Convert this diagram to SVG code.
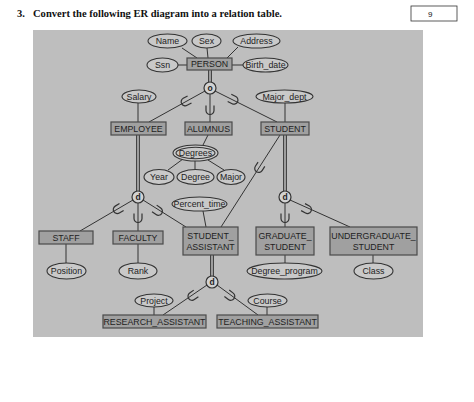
<svg xmlns="http://www.w3.org/2000/svg" width="474" height="402" viewBox="0 0 474 402">
<style>
.bg{fill:#bebebe}
.ent rect{fill:#a0a0a0;stroke:#4a4a4a;stroke-width:1.2}
.att ellipse{fill:#c9c9c9;stroke:#333;stroke-width:1.1}
.t{font-family:"Liberation Sans",Arial,sans-serif;font-size:8.8px;fill:#1e1e1e;text-anchor:middle}
.te{font-family:"Liberation Sans",Arial,sans-serif;font-size:8.8px;fill:#1e1e1e;text-anchor:middle}
.ln line{stroke:#333;stroke-width:1}
.dbl1{stroke:#444;stroke-width:4}
.dbl2{stroke:#b4b4b4;stroke-width:1.6}
.sub{fill:none;stroke:#333;stroke-width:1.2}
.circ circle{fill:#d2d2d2;stroke:#333;stroke-width:1.2}
.ct{font-family:"Liberation Sans",Arial,sans-serif;font-size:8.5px;font-weight:bold;fill:#1e1e1e;text-anchor:middle}
</style>
<defs>
<path id="u" class="sub" d="M-4,-4.5 V0.5 A4,4 0 0 0 4,0.5 V-4.5"/>
</defs>
<rect width="474" height="402" fill="#ffffff"/>
<g id="header">
<text x="17" y="17" font-family="Liberation Serif,'Times New Roman',serif" font-size="10.5" font-weight="bold" fill="#111">3.</text>
<text x="33" y="17" font-family="Liberation Serif,'Times New Roman',serif" font-size="10.5" font-weight="bold" fill="#111" textLength="249" lengthAdjust="spacingAndGlyphs">Convert the following ER diagram into a relation table.</text>
<rect x="411" y="6" width="46" height="15" fill="#fff" stroke="#333" stroke-width="0.8"/>
<text x="428" y="17" font-family="'Liberation Sans',Arial,sans-serif" font-size="8" fill="#111">9</text>
</g>
<rect class="bg" x="33" y="30" width="390" height="307"/>

<g id="connectors">
<g class="ln">
<line x1="182" y1="48" x2="197" y2="58"/>
<line x1="207" y1="48" x2="208" y2="58"/>
<line x1="238" y1="47" x2="227" y2="58"/>
<line x1="178" y1="65" x2="187" y2="65"/>
<line x1="232" y1="65" x2="243" y2="65"/>
<line x1="205" y1="91" x2="149" y2="122"/>
<line x1="210" y1="94" x2="210" y2="122"/>
<line x1="215" y1="91" x2="277" y2="122"/>
<line x1="138" y1="103" x2="138" y2="122"/>
<line x1="285" y1="103" x2="285" y2="122"/>
<line x1="208" y1="135" x2="203" y2="145"/>
<line x1="183" y1="159" x2="168" y2="170"/>
<line x1="195" y1="161" x2="195" y2="169"/>
<line x1="208" y1="160" x2="224" y2="170"/>
<line x1="280" y1="135" x2="221" y2="227"/>
<line x1="133" y1="200" x2="80" y2="231"/>
<line x1="138" y1="203" x2="138" y2="231"/>
<line x1="143" y1="200" x2="186" y2="227"/>
<line x1="203" y1="211" x2="206" y2="227"/>
<line x1="285" y1="203" x2="285" y2="227"/>
<line x1="290" y1="200" x2="350" y2="227"/>
<line x1="66" y1="244" x2="66" y2="263"/>
<line x1="138" y1="244" x2="138" y2="263"/>
<line x1="285" y1="255" x2="285" y2="263"/>
<line x1="373" y1="255" x2="373" y2="263"/>
<line x1="207" y1="285" x2="163" y2="315"/>
<line x1="217" y1="285" x2="258" y2="315"/>
<line x1="154" y1="307" x2="154" y2="315"/>
<line x1="267" y1="307" x2="267" y2="315"/>
</g>
<g id="double-lines">
<line class="dbl1" x1="210" y1="70" x2="210" y2="82"/>
<line class="dbl2" x1="210" y1="70" x2="210" y2="82"/>
<line class="dbl1" x1="138" y1="135" x2="138" y2="191"/>
<line class="dbl2" x1="138" y1="135" x2="138" y2="191"/>
<line class="dbl1" x1="285" y1="135" x2="285" y2="191"/>
<line class="dbl2" x1="285" y1="135" x2="285" y2="191"/>
<line class="dbl1" x1="212" y1="255" x2="212" y2="276"/>
<line class="dbl2" x1="212" y1="255" x2="212" y2="276"/>
</g>
<g id="subset-marks">
<use href="#u" transform="translate(185.6,101.6) rotate(60.9)"/>
<use href="#u" transform="translate(210,110)"/>
<use href="#u" transform="translate(233.5,99.9) rotate(-63.1)"/>
<use href="#u" transform="translate(259,168) rotate(32.6)"/>
<use href="#u" transform="translate(117.7,209.3) rotate(58.9)"/>
<use href="#u" transform="translate(138,218)"/>
<use href="#u" transform="translate(158,211) rotate(-54.5)"/>
<use href="#u" transform="translate(285,218)"/>
<use href="#u" transform="translate(307,209.3) rotate(-60.9)"/>
<use href="#u" transform="translate(192.4,296) rotate(54.5)"/>
<use href="#u" transform="translate(230.4,296) rotate(-52.7)"/>
</g>
</g>

<g id="circles" class="circ">
<g id="c-o"><circle cx="210" cy="88" r="6"/><text class="ct" x="210" y="90.5">o</text></g>
<g id="c-d1"><circle cx="138" cy="197" r="6"/><text class="ct" x="138" y="200">d</text></g>
<g id="c-d2"><circle cx="285" cy="197" r="6"/><text class="ct" x="285" y="200">d</text></g>
<g id="c-d3"><circle cx="212" cy="282" r="6"/><text class="ct" x="212" y="285">d</text></g>
</g>

<g id="attributes" class="att">
<g id="a-name"><ellipse cx="167.5" cy="41" rx="19.5" ry="7"/><text class="t" x="167.5" y="44.2">Name</text></g>
<g id="a-sex"><ellipse cx="206.5" cy="41" rx="14.5" ry="7"/><text class="t" x="206.5" y="44.2">Sex</text></g>
<g id="a-address"><ellipse cx="256.5" cy="41" rx="23.5" ry="7"/><text class="t" x="256.5" y="44.2">Address</text></g>
<g id="a-ssn"><ellipse cx="162.5" cy="65" rx="15.5" ry="7"/><text class="t" x="162.5" y="68.2">Ssn</text></g>
<g id="a-birth"><ellipse cx="265.5" cy="65" rx="22.5" ry="7"/><text class="t" x="265.5" y="68.2">Birth_date</text></g>
<g id="a-salary"><ellipse cx="139" cy="96.5" rx="17" ry="6.5"/><text class="t" x="139" y="99.7">Salary</text></g>
<g id="a-major-dept"><ellipse cx="284.5" cy="96.5" rx="28.5" ry="6.5"/><text class="t" x="284.5" y="99.7">Major_dept</text></g>
<g id="a-degrees"><ellipse cx="195.5" cy="153" rx="22.5" ry="8"/><ellipse cx="195.5" cy="153" rx="19.5" ry="5.7"/><text class="t" x="195.5" y="156.2">Degrees</text></g>
<g id="a-year"><ellipse cx="159" cy="177" rx="15" ry="7.5"/><text class="t" x="159" y="180.2">Year</text></g>
<g id="a-degree"><ellipse cx="195.5" cy="177" rx="18.5" ry="7.5"/><text class="t" x="195.5" y="180.2">Degree</text></g>
<g id="a-major"><ellipse cx="231" cy="177" rx="14" ry="7.5"/><text class="t" x="231" y="180.2">Major</text></g>
<g id="a-percent"><ellipse cx="199.5" cy="204" rx="27.5" ry="7"/><text class="t" x="199.5" y="207.2">Percent_time</text></g>
<g id="a-position"><ellipse cx="66.5" cy="271" rx="19.5" ry="8"/><text class="t" x="66.5" y="274.2">Position</text></g>
<g id="a-rank"><ellipse cx="138" cy="271" rx="19" ry="8"/><text class="t" x="138" y="274.2">Rank</text></g>
<g id="a-degree-program"><ellipse cx="284.5" cy="271" rx="37.5" ry="8"/><text class="t" x="284.5" y="274.2">Degree_program</text></g>
<g id="a-class"><ellipse cx="373.5" cy="271" rx="19.5" ry="8"/><text class="t" x="373.5" y="274.2">Class</text></g>
<g id="a-project"><ellipse cx="154" cy="300.5" rx="19" ry="6.5"/><text class="t" x="154" y="303.7">Project</text></g>
<g id="a-course"><ellipse cx="267.5" cy="300.5" rx="19.5" ry="6.5"/><text class="t" x="267.5" y="303.7">Course</text></g>
</g>

<g id="entities" class="ent">
<g id="e-person"><rect x="187" y="58" width="45" height="12"/><text class="te" x="209.5" y="67.3">PERSON</text></g>
<g id="e-employee"><rect x="111" y="122" width="55" height="13"/><text class="te" x="138.5" y="131.8">EMPLOYEE</text></g>
<g id="e-alumnus"><rect x="185" y="122" width="47" height="13"/><text class="te" x="208.5" y="131.8">ALUMNUS</text></g>
<g id="e-student"><rect x="261" y="122" width="48" height="13"/><text class="te" x="285" y="131.8">STUDENT</text></g>
<g id="e-staff"><rect x="39" y="231" width="54" height="13"/><text class="te" x="66" y="240.8">STAFF</text></g>
<g id="e-faculty"><rect x="113" y="231" width="50" height="13"/><text class="te" x="138" y="240.8">FACULTY</text></g>
<g id="e-student-assistant"><rect x="183" y="227" width="55" height="28"/><text class="te" x="210.5" y="238.5">STUDENT_</text><text class="te" x="210.5" y="249.5">ASSISTANT</text></g>
<g id="e-graduate"><rect x="256" y="227" width="58" height="28"/><text class="te" x="285" y="238.5">GRADUATE_</text><text class="te" x="285" y="249.5">STUDENT</text></g>
<g id="e-undergraduate"><rect x="330" y="227" width="87" height="28"/><text class="te" x="373.5" y="238.5">UNDERGRADUATE_</text><text class="te" x="373.5" y="249.5">STUDENT</text></g>
<g id="e-research"><rect x="103" y="315" width="103" height="13"/><text class="te" x="154.5" y="324.8">RESEARCH_ASSISTANT</text></g>
<g id="e-teaching"><rect x="217" y="315" width="101" height="13"/><text class="te" x="267.5" y="324.8">TEACHING_ASSISTANT</text></g>
</g>
</svg>
